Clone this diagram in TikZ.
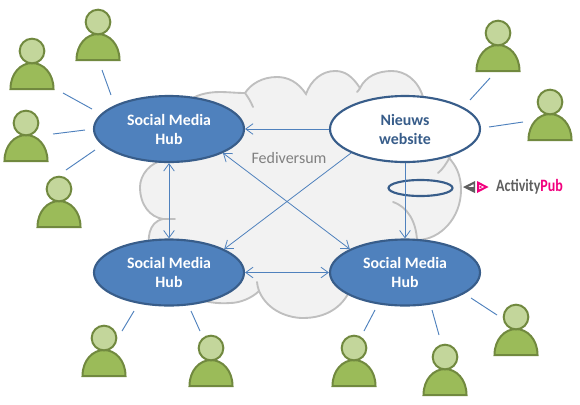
\documentclass[tikz,border=0pt]{standalone}
\usepackage{fontspec}
\setmainfont{Carlito}
\usetikzlibrary{arrows.meta,shapes.geometric}
\definecolor{hubfill}{HTML}{4F81BD}
\definecolor{hubline}{HTML}{385D8A}
\definecolor{headfill}{HTML}{C3D69B}
\definecolor{bodyfill}{HTML}{9BBB59}
\definecolor{personline}{HTML}{71893F}
\definecolor{cloudfill}{HTML}{F2F2F2}
\definecolor{cloudline}{HTML}{BFBFBF}
\definecolor{apgray}{HTML}{5F5F5F}
\definecolor{appink}{HTML}{F1007E}
\tikzset{
  hubnode/.style={ellipse,draw=hubline,line width=1.6pt,minimum width=112.5pt,minimum height=49.5pt,inner sep=0pt,
    align=center,font=\fontsize{11.9}{14.25}\selectfont\bfseries},
  hubblue/.style={hubnode,fill=hubfill,text=white},
  hubwhite/.style={hubnode,fill=white,text=hubline},
  link/.style={draw=hubfill,line width=0.6pt},
  both/.style={link,{Straight Barb[length=5.5pt,width=8pt,line width=0.6pt]}-{Straight Barb[length=5.5pt,width=8pt,line width=0.6pt]}},
  single/.style={link,-{Straight Barb[length=5.5pt,width=8pt,line width=0.6pt]}},
  spoke/.style={draw=hubfill,line width=0.7pt},
  cloudedge/.style={draw=cloudline,line width=1.4pt,line cap=round}
}
\newcommand{\person}[3]{% x, y of head centre, name
  \path[fill=bodyfill,draw=personline,line width=1.5pt]
    ({#1-21.5},{#2+38}) .. controls ({#1-21.5},{#2+22}) and ({#1-11},{#2+12}) .. ({#1},{#2+12})
    .. controls ({#1+11},{#2+12}) and ({#1+21.5},{#2+22}) .. ({#1+21.5},{#2+38}) -- cycle;
  \node[circle,fill=headfill,draw=personline,line width=1.5pt,minimum size=18.5pt,inner sep=0pt] (#3) at (#1,#2) {};
}
\begin{document}
\begin{tikzpicture}[x=0.75pt,y=-0.75pt]
\useasboundingbox (0,0) rectangle (580,404);
% cloud
\path[fill=cloudfill,cloudedge]
  (163,219) .. controls (148,222) and (147,240) .. (150,252)
  .. controls (155,280) and (190,306) .. (230,303)
  .. controls (240,303) and (252,298) .. (259,291)
  .. controls (268,312) and (290,318) .. (303,318)
  .. controls (325,318) and (342,308) .. (350,290)
  -- (400,250) -- (417,240)
  .. controls (440,240) and (461,218) .. (461,190)
  .. controls (461,175) and (456,165) .. (448,157)
  -- (423,97)
  .. controls (418,80) and (405,71) .. (392,71)
  .. controls (378,71) and (366,76) .. (360,88)
  .. controls (352,76) and (345,71) .. (335,71)
  .. controls (322,71) and (311,80) .. (306,94)
  .. controls (298,82) and (288,77) .. (277,77)
  .. controls (262,77) and (251,84) .. (245,93)
  .. controls (236,93) and (228,92) .. (220,92)
  .. controls (205,92) and (195,96) .. (190,100)
  -- (165,160)
  .. controls (150,162) and (140,175) .. (140,187)
  .. controls (140,205) and (150,217) .. (163,219) -- cycle;
\path[cloudedge] (245,93) .. controls (248,97) and (251,102) .. (253,107);
\path[cloudedge] (163,219) .. controls (167,219) and (171,219) .. (175,219);
\path[cloudedge] (393,202) .. controls (408,207) and (416,222) .. (417,240);
\path[cloudedge] (450,157) .. controls (446,164) and (443,169) .. (438,173);
\path[cloudedge] (259,291) .. controls (258,287) and (257,285) .. (257,282);
\path[cloudedge] (360,88) .. controls (359,90) and (358,91) .. (357,92);
% hubs
\node[hubblue] (hubA) at (169,129) {Social Media\\Hub};
\node[hubblue] (hubB) at (169,272.5) {Social Media\\Hub};
\node[hubblue] (hubC) at (405,272.5) {Social Media\\Hub};
\node[hubwhite] (news) at (405,129) {Nieuws\\website};
\node[draw=hubline,ellipse,line width=1.6pt,minimum width=48pt,minimum height=12pt,inner sep=0pt] (ring) at (420.5,188) {};
\node[text=black!50,font=\fontsize{12}{13}\selectfont] (fedi) at (289,158) {Fediversum};
% connectors
\draw[single] (news.west) -- (hubA.east);
\draw[single] (news.204) -- (hubB.23);
\draw[single] (news.south) -- (hubC.north);
\draw[both] (hubA.336) -- (hubC.157);
\draw[both] (hubA.south) -- (hubB.north);
\draw[both] (hubB.east) -- (hubC.west);
% people
\person{98}{22}{p1}
\person{32}{51}{p2}
\person{26}{123}{p3}
\person{59}{189}{p4}
\person{104}{338}{p5}
\person{211}{348}{p6}
\person{354}{348}{p7}
\person{445}{357}{p8}
\person{516}{317}{p9}
\person{498}{33}{p10}
\person{550}{102}{p11}
% spokes
\foreach \n/\xa/\ya/\xb/\yb in {
  a/102/70/111/95, b/63/93/92/109, c/53/134/85/130, d/66/170/95/150,
  e/134/311/122/331, f/191/311/200/331, g/375/310/364/331, h/432/310/439/335,
  i/471/298/497/315, j/490/78/470/100, k/523/122/489/127}{
  \coordinate (\n1) at (\xa,\ya);
  \coordinate (\n2) at (\xb,\yb);
  \draw[spoke] (\n1) -- (\n2);
}
% ActivityPub logo
\fill[apgray,even odd rule] (475,181) -- (463,187) -- (475,193) -- cycle (473.5,184) -- (468,187) -- (473.5,187) -- cycle;
\fill[appink,even odd rule] (477,181) -- (488.5,187) -- (477,193) -- cycle (479,184.5) -- (479,189.5) -- (484.5,187) -- cycle;
\fill[appink] (479.5,185.8) -- (482.5,187) -- (479.5,188.2) -- cycle;
\node[anchor=west,inner sep=0pt,font=\fontsize{13}{15}\selectfont\bfseries,xscale=0.81] (logo) at (496,187) {\textcolor{apgray}{Activity}\textcolor{appink}{Pub}};
\end{tikzpicture}
\end{document}
